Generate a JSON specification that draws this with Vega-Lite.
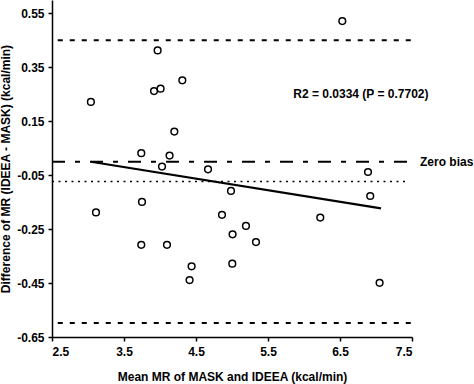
{
  "$schema": "https://vega.github.io/schema/vega-lite/v6.json",
  "autosize": "none",
  "padding": {"left": 52, "top": 0, "right": 62, "bottom": 47},
  "width": 360,
  "height": 337,
  "background": "white",
  "config": {
    "view": {"stroke": null},
    "font": "Liberation Sans",
    "axis": {
      "grid": false,
      "domainColor": "black",
      "domainWidth": 1.5,
      "tickColor": "black",
      "tickWidth": 1.5,
      "tickSize": 4,
      "labelFont": "Liberation Sans",
      "labelFontWeight": "bold",
      "labelFontSize": 12,
      "labelColor": "black",
      "titleFont": "Liberation Sans",
      "titleFontWeight": "bold",
      "titleFontSize": 12,
      "titleColor": "black"
    }
  },
  "datasets": {
    "points": [
      {"mean": 3.04, "diff": 0.222},
      {"mean": 3.967, "diff": 0.413},
      {"mean": 3.917, "diff": 0.262},
      {"mean": 4.008, "diff": 0.271},
      {"mean": 4.31, "diff": 0.302},
      {"mean": 4.199, "diff": 0.112},
      {"mean": 3.74, "diff": 0.032},
      {"mean": 4.133, "diff": 0.023},
      {"mean": 4.028, "diff": -0.018},
      {"mean": 4.667, "diff": -0.028},
      {"mean": 4.986, "diff": -0.108},
      {"mean": 6.532, "diff": 0.522},
      {"mean": 6.889, "diff": -0.038},
      {"mean": 6.92, "diff": -0.127},
      {"mean": 3.111, "diff": -0.188},
      {"mean": 3.75, "diff": -0.149},
      {"mean": 3.74, "diff": -0.308},
      {"mean": 4.097, "diff": -0.308},
      {"mean": 4.439, "diff": -0.388},
      {"mean": 4.411, "diff": -0.439},
      {"mean": 4.861, "diff": -0.197},
      {"mean": 5.008, "diff": -0.269},
      {"mean": 5.004, "diff": -0.378},
      {"mean": 5.194, "diff": -0.238},
      {"mean": 5.333, "diff": -0.298},
      {"mean": 6.226, "diff": -0.207},
      {"mean": 7.05, "diff": -0.449}
    ],
    "lines": [
      {"line": "upper", "x": 2.58, "y": 0.451},
      {"line": "upper", "x": 7.5, "y": 0.451},
      {"line": "lower", "x": 2.58, "y": -0.598},
      {"line": "lower", "x": 7.5, "y": -0.598},
      {"line": "zero", "x": 2.5, "y": 0.0},
      {"line": "zero", "x": 7.5, "y": 0.0},
      {"line": "mean", "x": 2.5, "y": -0.073},
      {"line": "mean", "x": 7.46, "y": -0.073},
      {"line": "fit", "x": 3.04, "y": 0.0},
      {"line": "fit", "x": 7.07, "y": -0.173}
    ],
    "labels": [
      {"kind": "r2", "x": 6.79, "y": 0.25, "text": "R2 = 0.0334 (P = 0.7702)"},
      {"kind": "zero", "x": 7.5, "y": 0.0, "text": "Zero bias"}
    ]
  },
  "encoding": {
    "x": {
      "type": "quantitative",
      "scale": {"domain": [2.5, 7.5], "nice": false, "zero": false},
      "axis": {
        "title": "Mean MR of MASK and IDEEA (kcal/min)",
        "values": [2.5, 3.5, 4.5, 5.5, 6.5, 7.5],
        "format": ".1f",
        "labelPadding": 5,
        "titlePadding": 14
      }
    },
    "y": {
      "type": "quantitative",
      "scale": {"domain": [-0.65, 0.6], "nice": false, "zero": false},
      "axis": {
        "title": "Difference of MR (IDEEA - MASK) (kcal/min)",
        "values": [-0.65, -0.45, -0.25, -0.05, 0.15, 0.35, 0.55],
        "labelExpr": "replace(format(datum.value, '.2f'), '−', '-')",
        "labelPadding": 4,
        "titlePadding": 4
      }
    }
  },
  "layer": [
    {
      "data": {"name": "lines"},
      "transform": [{"filter": "datum.line === 'upper' || datum.line === 'lower'"}],
      "mark": {"type": "line", "color": "black", "strokeWidth": 2, "strokeDash": [5, 7]},
      "encoding": {"x": {"field": "x"}, "y": {"field": "y"}, "detail": {"field": "line"}}
    },
    {
      "data": {"name": "lines"},
      "transform": [{"filter": "datum.line === 'zero'"}],
      "mark": {"type": "line", "color": "black", "strokeWidth": 2, "strokeDash": [13, 10, 5, 10]},
      "encoding": {"x": {"field": "x"}, "y": {"field": "y"}}
    },
    {
      "data": {"name": "lines"},
      "transform": [{"filter": "datum.line === 'mean'"}],
      "mark": {"type": "line", "color": "black", "strokeWidth": 1.5, "strokeDash": [2, 4.5]},
      "encoding": {"x": {"field": "x"}, "y": {"field": "y"}}
    },
    {
      "data": {"name": "lines"},
      "transform": [{"filter": "datum.line === 'fit'"}],
      "mark": {"type": "line", "color": "black", "strokeWidth": 2.2},
      "encoding": {"x": {"field": "x"}, "y": {"field": "y"}}
    },
    {
      "data": {"name": "points"},
      "mark": {"type": "point", "shape": "circle", "size": 45, "filled": false, "fill": "white", "fillOpacity": 1, "stroke": "black", "strokeWidth": 1.5, "opacity": 1},
      "encoding": {"x": {"field": "mean"}, "y": {"field": "diff"}}
    },
    {
      "data": {"name": "labels"},
      "transform": [{"filter": "datum.kind === 'r2'"}],
      "mark": {"type": "text", "font": "Liberation Sans", "fontWeight": "bold", "fontSize": 12, "color": "black", "align": "center", "baseline": "middle"},
      "encoding": {"x": {"field": "x"}, "y": {"field": "y"}, "text": {"field": "text"}}
    },
    {
      "data": {"name": "labels"},
      "transform": [{"filter": "datum.kind === 'zero'"}],
      "mark": {"type": "text", "font": "Liberation Sans", "fontWeight": "bold", "fontSize": 12, "color": "black", "align": "left", "baseline": "middle", "dx": 8},
      "encoding": {"x": {"field": "x"}, "y": {"field": "y"}, "text": {"field": "text"}}
    }
  ]
}
